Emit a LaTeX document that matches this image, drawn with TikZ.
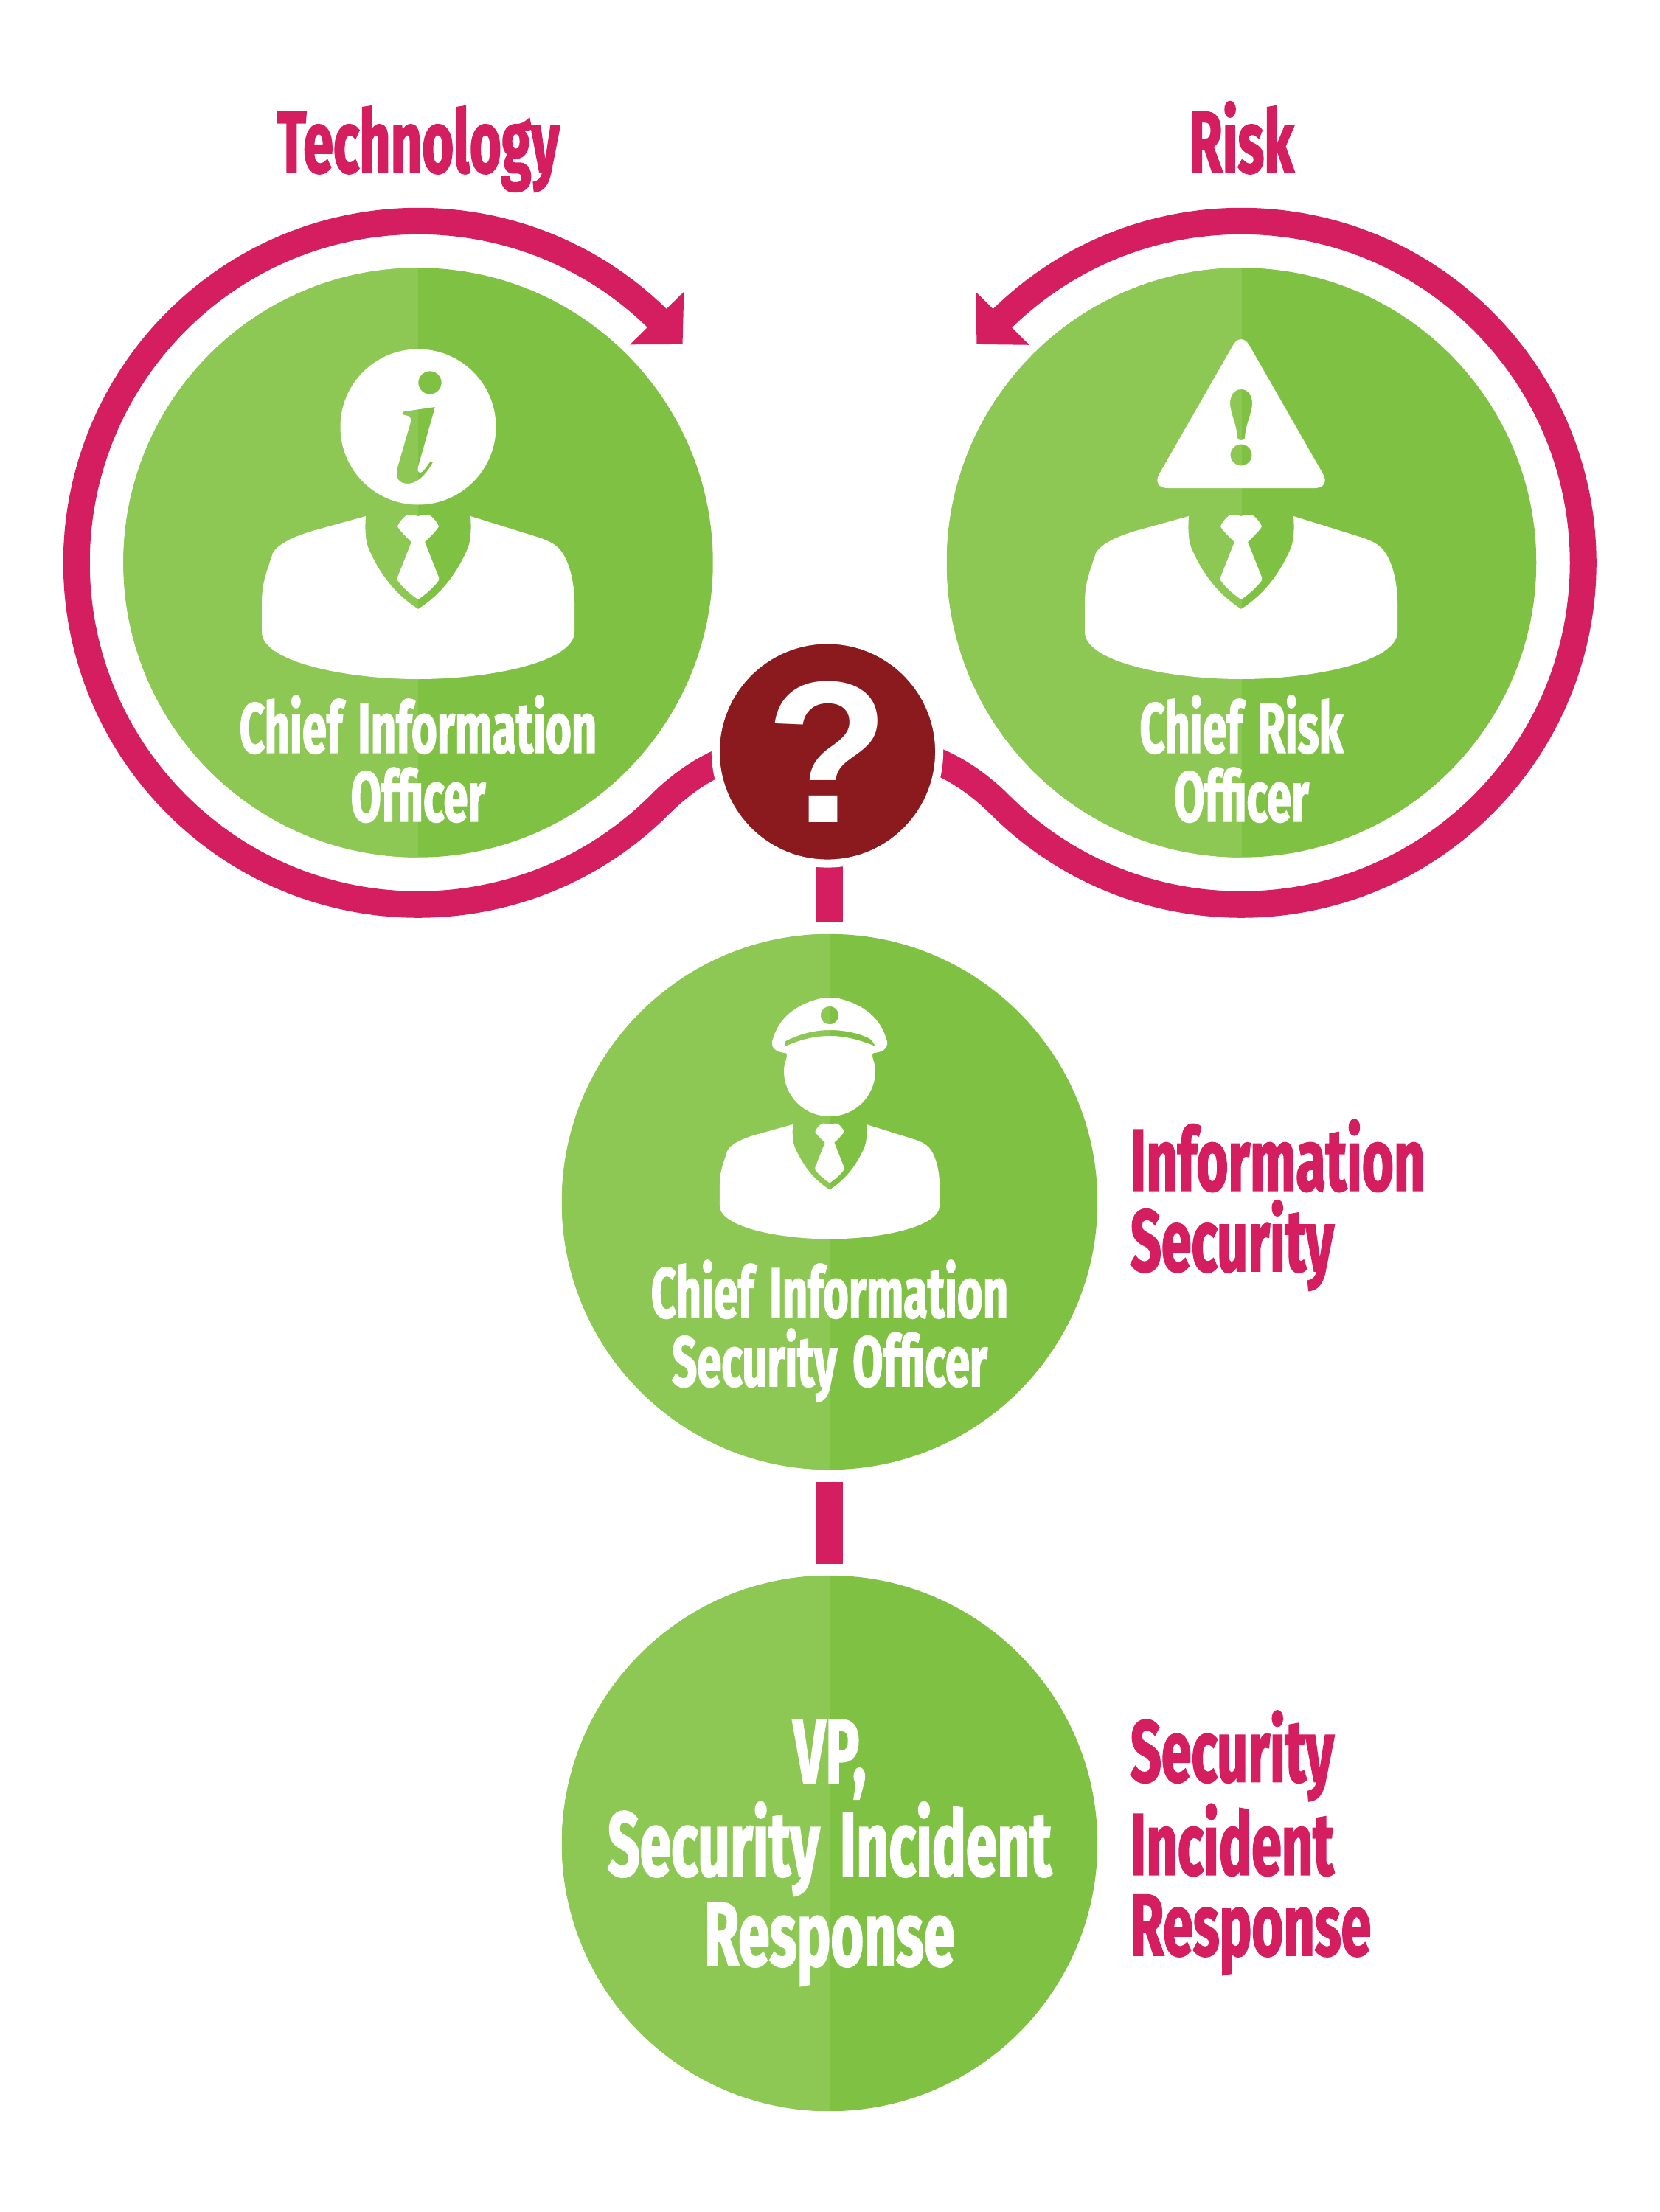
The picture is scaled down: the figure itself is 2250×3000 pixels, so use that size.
\documentclass[tikz,border=0pt]{standalone}
\usepackage{fontspec}
\setmainfont{Fira Sans}[FakeStretch=0.62,FakeBold=1.5,WordSpace=1.5]
\newfontfamily\qfont{Liberation Sans}
\usepackage{tikz}
\usetikzlibrary{arrows.meta}
\usetikzlibrary{backgrounds}
\definecolor{greenlight}{HTML}{8DC855}
\definecolor{greendark}{HTML}{7FC243}
\definecolor{pinkline}{HTML}{D41E5F}
\definecolor{redmark}{HTML}{8B1A1E}
\tikzset{
  rolenode/.style={circle,inner sep=0,outer sep=0,fill=greendark,minimum size=#1,
    path picture={\fill[greenlight] (path picture bounding box.south west) rectangle (path picture bounding box.north);}},
  marknode/.style={circle,inner sep=0,outer sep=0,fill=redmark,draw=white,line width=0.11cm,minimum size=3.03cm,text=white},
  ringline/.style={draw=pinkline,line width=0.36cm,-{Triangle[length=0.497cm,width=0.994cm]}},
  linkline/.style={draw=pinkline,line width=0.36cm},
  rolelabel/.style={anchor=base,align=center,inner sep=0,text=white,font=\bfseries\fontsize{27.4}{26.46}\selectfont},
  biglabel/.style={anchor=base,align=center,inner sep=0,text=white,font=\bfseries\fontsize{35.2}{34.7}\selectfont},
  sidelabel/.style={anchor=base west,align=left,inner sep=0,text=pinkline,font=\bfseries\fontsize{33.8}{31.1}\selectfont},
  toplabel/.style={anchor=base,inner sep=0,text=pinkline,font=\bfseries\fontsize{33.8}{31.1}\selectfont},
  pics/bust/.style={code={
    \fill[white] (71,0) -- (164,29) .. controls (176,33) and (186,38) .. (192,45)
      .. controls (205,60) and (212,90) .. (212,117) -- (212,157)
      .. controls (212,197) and (100,221) .. (0,221)
      .. controls (-100,221) and (-212,197) .. (-212,157) -- (-212,117)
      .. controls (-212,90) and (-205,75) .. (-197,50)
      .. controls (-190,38) and (-170,28) .. (-143,20) -- (-71,0)
      .. controls (-72,15) and (-72,30) .. (-68,42)
      .. controls (-50,85) and (-25,110) .. (0,126)
      .. controls (25,110) and (50,85) .. (68,42)
      .. controls (72,30) and (72,15) .. (71,0) -- cycle;
    \fill[white] (0,0) .. controls (4,-1) and (8,-2) .. (12,-2)
      .. controls (18,-2) and (25,7) .. (28,14) .. controls (24,21) and (16,28) .. (9,35)
      -- (28,83) -- (28,87) .. controls (20,98) and (10,106) .. (0,113)
      .. controls (-10,106) and (-20,98) .. (-28,87) -- (-28,83) -- (-9,35)
      .. controls (-16,28) and (-24,21) .. (-28,14) .. controls (-25,7) and (-18,-2) .. (-12,-2)
      .. controls (-8,-2) and (-4,-1) .. (0,0) -- cycle;
  }}
}
\begin{document}
\begin{tikzpicture}[x=0.01cm,y=-0.01cm]
  \useasboundingbox (0,0) rectangle (2250,3000);
  \node[rolenode=7.99cm] (cio) at (567,763) {};
  \node[rolenode=7.99cm] (cro) at (1683.5,763) {};
  \node[rolenode=7.26cm] (ciso) at (1125,1630) {};
  \node[rolenode=7.26cm] (vpnode) at (1125,2500) {};
  \node[marknode] (question) at (1122,1019.5) {\qfont\bfseries\fontsize{78}{78}\selectfont ?};
  \coordinate (techtip) at (925.6,467);
  \coordinate (risktip) at (1324.4,467);
  \begin{scope}[on background layer]
    \draw[ringline] (question.center) .. controls (1040,1000) and (960,1026) .. (895,1091)
      arc[start angle=45,end angle=314,radius=463.5] -- (techtip);
    \draw[ringline] (question.center) .. controls (1210,1000) and (1290,1026) .. (1355.5,1091)
      arc[start angle=135,end angle=-134,radius=463.5] -- (risktip);
    \draw[linkline,shorten >=0.17cm] (ciso.north |- question.center) -- (ciso.north);
  \end{scope}
  \draw[linkline,shorten <=0.17cm,shorten >=0.155cm] (ciso.south) -- (vpnode.north);
  % icons
  \foreach \x/\y/\s in {567/700/1,1683/700/1,1125/1525/0.703}{
    \pic[scale=\s] at (\x,\y) {bust};
  }
  \begin{scope}[shift={(567,700)}]
    \fill[white,even odd rule] (0,-121) circle[radius=105.5]
      (16,-181) circle[radius=15.7]
      (23,-148) -- (-19,-142) .. controls (-23,-141) and (-22,-137) .. (-18,-137)
      .. controls (-12,-136) and (-9,-134) .. (-10,-128) -- (-28,-66)
      .. controls (-32,-52) and (-26,-44) .. (-14,-44)
      .. controls (-2,-44) and (10,-55) .. (20,-73) -- (17,-75)
      .. controls (10,-65) and (6,-59) .. (3,-59)
      .. controls (0,-59) and (-1,-62) .. (0,-67) -- cycle;
  \end{scope}
  \begin{scope}[shift={(1683,700)}]
    \fill[white,even odd rule,rounded corners=0.22cm] (0,-251) -- (122,-38) -- (-122,-38) -- cycle
      [sharp corners]
      (0,-83) circle[radius=14.5]
      (0,-172) .. controls (10,-172) and (15,-163) .. (15,-153)
      .. controls (15,-140) and (6,-125) .. (5,-106)
      .. controls (5,-102) and (-5,-102) .. (-5,-106)
      .. controls (-6,-125) and (-15,-140) .. (-15,-153)
      .. controls (-15,-163) and (-10,-172) .. (0,-172) -- cycle;
  \end{scope}
  \begin{scope}[shift={(1125,1525)}]
    \fill[white,even odd rule] (-12,-171) -- (12,-171) .. controls (45,-163) and (70,-145) .. (78,-112)
      .. controls (79,-103) and (72,-98) .. (60,-97) .. controls (57,-97) and (58,-92) .. (59,-88)
      .. controls (61,-82) and (62,-78) .. (62,-73) .. controls (62,-38) and (34,-11) .. (0,-11)
      .. controls (-34,-11) and (-62,-38) .. (-62,-73) .. controls (-62,-78) and (-61,-82) .. (-59,-88)
      .. controls (-58,-92) and (-57,-97) .. (-60,-97) .. controls (-72,-98) and (-79,-103) .. (-78,-112)
      .. controls (-70,-145) and (-45,-163) .. (-12,-171) -- cycle
      (0,-148) circle[radius=12.3]
      (-60,-113) .. controls (-40,-123) and (-20,-128) .. (0,-128)
      .. controls (22,-128) and (42,-123) .. (55,-116) .. controls (58,-113) and (60,-110) .. (62,-106)
      .. controls (40,-115) and (20,-120) .. (0,-120)
      .. controls (-20,-120) and (-40,-115) .. (-60,-106)
      .. controls (-62,-108) and (-61,-112) .. (-60,-113) -- cycle;
  \end{scope}
  % labels
  \node[rolelabel] (ciotext) at (567,1114) {Chief Information\\Officer};
  \node[rolelabel] (crotext) at (1683.5,1114) {Chief Risk\\Officer};
  \node[rolelabel] (cisotext) at (1125,1880) {Chief Information\\Security Officer};
  \node[biglabel] (vptext) at (1125,2666) {VP,\\Security Incident\\Response};
  \node[toplabel] (techlabel) at (567,234) {Technology};
  \node[toplabel] (risklabel) at (1683.5,234) {Risk};
  \node[sidelabel] (seclabel) at (1532,1724) {Information\\Security};
  \node[sidelabel] (irlabel) at (1532,2652) {Security\\Incident\\Response};
\end{tikzpicture}
\end{document}
